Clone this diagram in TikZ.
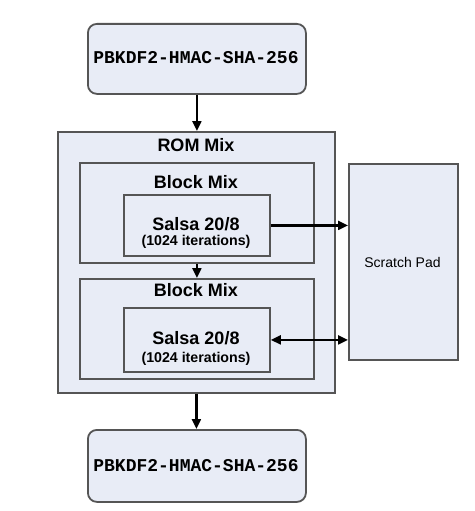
\documentclass[tikz,border=0pt]{standalone}
\usepackage{fontspec}
\setmainfont{Liberation Sans}
\newfontfamily\monob{Liberation Mono}
\usetikzlibrary{arrows.meta}
\definecolor{boxfill}{HTML}{E8ECF6}
\definecolor{boxline}{HTML}{555555}
\tikzset{
  px/.style={x=1pt,y=-1pt},
  blk/.style={draw=boxline,fill=boxfill,line width=1.8pt,inner sep=0pt,anchor=north west},
  rblk/.style={blk,rounded corners=9pt},
  arr/.style={draw=black,line width=2.2pt,-{Triangle[length=10pt,width=9pt]}},
  darr/.style={draw=black,line width=2.2pt,{Triangle[length=10pt,width=9pt]}-{Triangle[length=10pt,width=9pt]}},
  ttl/.style={font=\bfseries\fontsize{18}{20}\selectfont,inner sep=0pt},
  sub/.style={font=\bfseries\fontsize{14.2}{16}\selectfont,inner sep=0pt},
  mono/.style={font=\monob\bfseries\fontsize{18}{20}\selectfont,inner sep=0pt},
  note/.style={font=\fontsize{14}{16}\selectfont,inner sep=0pt}
}
\begin{document}
\begin{tikzpicture}[px]
\useasboundingbox[fill=white] (0,0) rectangle (474,511);
% boxes
\node[rblk,minimum width=218pt,minimum height=70pt] (top) at (87,23) {};
\node[blk,minimum width=277pt,minimum height=261pt] (rom) at (57,131) {};
\node[blk,minimum width=234pt,minimum height=100pt] (bm1) at (79,162) {};
\node[blk,minimum width=146pt,minimum height=61pt] (s1) at (123,194) {};
\node[blk,minimum width=234pt,minimum height=100pt] (bm2) at (79,278) {};
\node[blk,minimum width=146pt,minimum height=64pt] (s2) at (123,307) {};
\node[blk,minimum width=109pt,minimum height=196pt] (pad) at (348,163) {};
\node[rblk,minimum width=218pt,minimum height=72pt] (bot) at (87,429) {};
% labels
\node[mono] (toplbl) at (196,58) {PBKDF2-HMAC-SHA-256};
\node[ttl] (romlbl) at (196,145) {ROM Mix};
\node[ttl] (bm1lbl) at (196,182) {Block Mix};
\node[ttl] (s1lbl) at (196,224) {Salsa 20/8};
\node[sub] (s1sub) at (196,242) {(1024 iterations)};
\node[ttl] (bm2lbl) at (196,290) {Block Mix};
\node[ttl] (s2lbl) at (196,338) {Salsa 20/8};
\node[sub] (s2sub) at (196,359) {(1024 iterations)};
\node[note] (padlbl) at (402.5,262) {Scratch Pad};
\node[mono] (botlbl) at (196,466) {PBKDF2-HMAC-SHA-256};
% connectors
\draw[arr] (top.south) -- (top.south |- rom.north);
\draw[arr] (s1.east) -- (s1.east -| pad.west);
\draw[arr] (bm1.south) -- (bm2.north);
\draw[darr] (s2.east) -- (s2.east -| pad.west);
\draw[arr] (rom.south) -- (rom.south |- bot.north);
\end{tikzpicture}
\end{document}
